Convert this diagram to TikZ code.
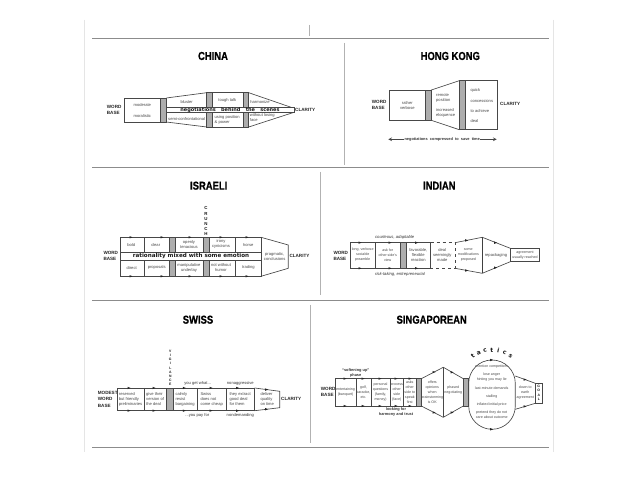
\documentclass[tikz,border=0pt]{standalone}
\usepackage{fontspec}
\setmainfont{Liberation Sans}
\newfontfamily\titlefont[FakeStretch=0.82,BoldFeatures={FakeStretch=0.82,FakeBold=0.7}]{Liberation Sans}
\newfontfamily\bandfont{DejaVu Sans}
\newcommand{\mktip}[2]{\fill[black!85] (#1-1.5,#2-1.2) -- (#1+1.5,#2) -- (#1-1.5,#2+1.2) -- cycle;}
\tikzset{
  title node/.style={font=\titlefont\bfseries\fontsize{11.5}{13}\selectfont,inner sep=0pt},
  lbl/.style={font=\fontsize{4.1}{5.2}\selectfont,text=black!72,align=center,inner sep=0pt},
  lbl small/.style={lbl,font=\fontsize{3.6}{5}\selectfont},
  lbl left/.style={lbl,align=left,anchor=west},
  key/.style={font=\bfseries\fontsize{4.6}{6.2}\selectfont,text=black!85,align=left,anchor=west,inner sep=0pt},
  band/.style={font=\bandfont\bfseries\fontsize{4.6}{5}\selectfont,text=black!90,inner sep=0pt},
  vert/.style={font=\bfseries\fontsize{4.4}{5.2}\selectfont,text=black!90,align=center,inner sep=0pt},
  side/.style={lbl,text=black!80},
  rule/.style={black!45,line width=0.8pt},
  faint/.style={black!10,line width=0.6pt},
  edge/.style={black!72,line width=0.65pt},
  heavy/.style={black!75,line width=0.9pt},
  bar/.style={black!72,line width=0.65pt,fill=black!32}
}
\begin{document}
\begin{tikzpicture}[x=1pt,y=-1pt]
\useasboundingbox (0,0) rectangle (638,478);
\fill[white] (0,0) rectangle (638,478);
% frame
\draw[faint] (84,20) -- (84,452);
\draw[faint] (553,20) -- (553,452);
\draw[rule] (92,38) -- (549,38);
\draw[rule] (92,167.5) -- (549,167.5);
\draw[rule] (92,300.5) -- (549,300.5);
\draw[rule] (92,447) -- (549,447);
\draw[faint,black!30] (309,25) -- (309,36);
\draw[faint,black!30] (344,43) -- (344,165);
\draw[faint,black!30] (320,172) -- (320,295);
\draw[faint,black!30] (310,305) -- (310,443);
% titles
\node[title node] (tChina) at (213,56) {CHINA};
\node[title node] (tHong) at (450.3,56) {HONG KONG};
\node[title node] (tIsrael) at (208.7,185.7) {ISRAELI};
\node[title node] (tIndia) at (439.3,185.7) {INDIAN};
\node[title node] (tSwiss) at (198,319.7) {SWISS};
\node[title node] (tSing) at (431.7,319.7) {SINGAPOREAN};

% China
\draw[edge] (124.3,98) rectangle (160.3,122);
\draw[edge] (166.3,98) -- (206.7,92.7);
\draw[edge] (166.3,122) -- (206.7,127);
\draw[edge] (212,92.7) -- (243.3,92.7);
\draw[edge] (212,127) -- (243.3,127);
\draw[edge] (248.7,92.7) -- (294,108.3) -- (294,112.3) -- (248.7,127);
\draw[edge,fill=white] (166.3,107.3) rectangle (294,112.7);
\draw[bar] (160.3,98) rectangle (166.3,122);
\draw[bar] (206.7,92.7) rectangle (212,107.3);
\draw[bar] (206.7,112.7) rectangle (212,127);
\draw[bar] (243.3,92.7) rectangle (248.7,107.3);
\draw[bar] (243.3,112.7) rectangle (248.7,127);
\node[key] (chWord) at (106.7,110) {WORD\\BASE};
\node[lbl] (chMod) at (142.3,105) {moderate};
\node[lbl] (chMor) at (142.3,115.7) {moralistic};
\node[lbl] (chBlu) at (186.7,102) {bluster};
\node[lbl] (chSemi) at (186.7,118.7) {semi-confrontational};
\node[lbl] (chTough) at (227.3,100.7) {tough talk};
\node[lbl left] (chPos) at (214.5,120) {using position\\\& power};
\node[lbl] (chHarm) at (260,102.3) {harmonize};
\node[lbl left] (chLose) at (249.7,117.7) {without losing\\face};
\node[band,font=\bandfont\bfseries\fontsize{5}{5.5}\selectfont] (chBand) at (230,110) {negotiations\ \ \ behind\ \ \ the\ \ \ scenes};
\node[key] (chClar) at (295,110.3) {CLARITY};

% Hong Kong
\draw[edge] (389.3,90) rectangle (425.3,120.3);
\draw[edge] (431.3,90) -- (459.3,80.7);
\draw[edge] (431.3,120.3) -- (459.3,129.7);
\draw[edge] (465.7,80.7) rectangle (497.7,129.7);
\draw[bar] (425.3,90) rectangle (431.3,120.3);
\draw[bar] (459.3,80.7) rectangle (465.7,129.7);
\node[key] (hkWord) at (371.7,104.8) {WORD\\BASE};
\node[lbl] (hkRath) at (407.3,105.7) {rather\\verbose};
\node[lbl left] (hkRem) at (436,98) {remote\\position};
\node[lbl left] (hkInc) at (436,113.3) {increased\\eloquence};
\node[lbl left] (hkQuick) at (470.3,90) {quick};
\node[lbl left] (hkConc) at (470.3,100.7) {concessions};
\node[lbl left] (hkAch) at (470.3,111) {to achieve};
\node[lbl left] (hkDeal) at (470.3,121.3) {deal};
\node[key] (hkClar) at (500,104) {CLARITY};
\node[side,font=\bfseries\fontsize{3.9}{5}\selectfont] (hkTime) at (442.2,139.3) {negotiations\ \ compressed\ \ to\ \ save\ \ time};
\coordinate (hkL) at (388.3,139.3);
\coordinate (hkR) at (496.7,139.3);
\draw[edge,-stealth] (hkTime) -- (hkL);
\draw[edge,-stealth] (hkTime) -- (hkR);

% Israeli
\draw[edge] (120,237.3) rectangle (261,276.3);
\draw[edge] (261,237.3) -- (288.3,245) -- (288.3,268.3) -- (261,276.3);
\draw[edge] (144.3,237.3) -- (144.3,276.3);
\draw[edge] (235.7,237.3) -- (235.7,276.3);
\draw[bar] (169.3,237.3) rectangle (175.3,276.3);
\draw[bar] (203.3,237.3) rectangle (209,276.3);
\draw[edge,fill=white] (120,252.7) rectangle (261,260);
\foreach \x in {131,162,190,221,247} {
  \mktip{\x}{237.3}
  \mktip{\x}{276.3}
}
\node[key] (isWord) at (103.3,256.3) {WORD\\BASE};
\node[lbl] (isBold) at (131.3,245) {bold};
\node[lbl] (isClear) at (155.7,245) {clear};
\node[lbl] (isOpen) at (189,244.3) {openly\\tenacious};
\node[lbl] (isIrony) at (221,244.3) {irony\\cynicisms};
\node[lbl] (isHorse) at (248.3,245) {horse};
\node[lbl] (isDir) at (131.7,267.7) {direct};
\node[lbl] (isProp) at (156.7,267.7) {proposals};
\node[lbl] (isMan) at (189,267.7) {manipulative\\underlay};
\node[lbl] (isNot) at (221,267.7) {not without\\humor};
\node[lbl] (isTrad) at (248.3,267.7) {trading};
\node[lbl] (isPrag) at (274.7,256.7) {pragmatic,\\conclusions};
\node[band,font=\bandfont\bfseries\fontsize{5.6}{6}\selectfont] (isBand) at (191,256.3) {rationality mixed with some emotion};
\node[key] (isClar) at (289.3,256) {CLARITY};
\node[vert] (isCrunch) at (206,221.3) {C\\R\\U\\N\\C\\H};

% Indian
\draw[edge] (350,242.7) rectangle (430.7,268.3);
\draw[edge] (375.3,242.7) -- (375.3,268.3);
\draw[bar] (400,242.7) rectangle (406,268.3);
\draw[edge,dashed] (430.7,242.7) -- (455,242.7) -- (455,268.3) -- (430.7,268.3);
\draw[edge] (455,242.7) -- (482.3,237.3) -- (510.3,248.3);
\draw[edge] (455,268.3) -- (482.3,273.3) -- (510.3,261.7);
\draw[heavy] (482.3,237.3) -- (482.3,273.3);
\draw[edge] (510.3,248.3) rectangle (539.7,261.7);
\foreach \x in {360,390,416.7} {
  \mktip{\x}{242.7}
  \mktip{\x}{268.3}
}
\mktip{466.7}{240.4}
\mktip{466.7}{270.5}
\mktip{495.7}{242.7}
\mktip{495.7}{267.7}
\node[key] (inWord) at (333.3,255.7) {WORD\\BASE};
\node[lbl small] (inLong) at (362.7,255) {long, verbose\\sociable\\preamble};
\node[lbl small] (inAsk) at (387.7,255) {ask for\\other side's\\view};
\node[lbl] (inFav) at (418.3,255) {favorable,\\flexible\\reaction};
\node[lbl] (inDeal) at (442.3,255) {deal\\seemingly\\made};
\node[lbl small] (inSome) at (468.3,255) {some\\modifications\\proposed};
\node[lbl] (inRepack) at (496,255) {repackaging};
\node[lbl small] (inAgree) at (525,255) {agreement\\usually reached};
\node[side,font=\itshape\fontsize{4.2}{5}\selectfont] (inCourt) at (394.7,237) {courteous, adaptable};
\node[side,font=\itshape\fontsize{4.2}{5}\selectfont] (inRisk) at (400,274) {risk-taking, entrepreneurial};

% Swiss
\draw[edge] (117.3,388) rectangle (254.7,410.7);
\draw[edge] (144,388) -- (144,410.7);
\draw[edge] (197.7,388) -- (197.7,410.7);
\draw[edge] (226.3,388) -- (226.3,410.7);
\draw[edge] (254.7,388) -- (279.7,391.3) -- (279.7,407.7) -- (254.7,410.7);
\draw[bar] (166.7,388) rectangle (173.3,410.7);
\foreach \x in {129,154,184.3,211,237.7} {
  \mktip{\x}{388}
  \mktip{\x}{410.7}
}
\mktip{266.7}{389.6}
\mktip{266.7}{409.2}
\node[key] (swWord) at (97.7,399.3) {MODEST\\WORD\\BASE};
\node[lbl left] (swRes) at (118.7,399.3) {reserved\\but friendly\\preliminaries};
\node[lbl left] (swGive) at (146,399.3) {give their\\version of\\the deal};
\node[lbl left] (swCalm) at (175.3,399.3) {calmly\\resist\\bargaining};
\node[lbl left] (swDoes) at (200.3,399.3) {Swiss\\does not\\come cheap};
\node[lbl left] (swExt) at (229.3,399.3) {they extract\\good deal\\for them};
\node[lbl left] (swDel) at (260.3,399.3) {deliver\\quality\\on time};
\node[key] (swClar) at (281,398.7) {CLARITY};
\node[side] (swGet) at (197.7,383.7) {you get what...};
\node[side] (swPay) at (197.3,415.7) {...you pay for};
\node[side] (swNonA) at (240.3,383.7) {nonaggressive};
\node[side] (swNonD) at (240.3,415.7) {nondemanding};
\node[vert,font=\bfseries\fontsize{3.4}{4.2}\selectfont] (swVig) at (170.3,368) {V\\I\\G\\I\\L\\A\\N\\C\\E};

% Singaporean
\draw[edge] (335,378.7) rectangle (416.3,406);
\draw[edge] (356,378.7) -- (356,406);
\draw[edge] (371,378.7) -- (371,406);
\draw[edge] (390,378.7) -- (390,406);
\draw[edge] (403.3,378.7) -- (403.3,406);
\draw[bar] (416.3,378.7) rectangle (421.3,406);
\draw[edge] (421.3,378.7) -- (443.3,367.3) -- (463.3,378.7);
\draw[edge] (421.3,406) -- (443.3,417.3) -- (463.3,406);
\draw[edge] (443.3,367.3) -- (443.3,417.3);
\draw[bar] (463.3,378.7) rectangle (468.7,406);
\draw[edge,rounded corners=23.3pt] (468.7,360) rectangle (515.3,429.3);
\draw[edge] (515.3,376) -- (535.3,383.3);
\draw[edge] (515.3,409.3) -- (535.3,403.3);
\draw[edge] (535.3,383.3) rectangle (542.3,403.3);
\foreach \x in {345,363,380,396,410} {
  \mktip{\x}{378.7}
  \mktip{\x}{406}
}
\mktip{434}{372.1}
\mktip{434}{412.5}
\mktip{452}{372.3}
\mktip{452}{412.5}
\mktip{491.7}{360}
\mktip{491.7}{429.3}
\mktip{525}{379.6}
\mktip{525}{406.4}
\node[key] (sgWord) at (320.7,392.2) {WORD\\BASE};
\node[lbl small] (sgEnt) at (345.5,392.3) {entertaining\\(banquet)};
\node[lbl small] (sgGolf) at (363.5,392.3) {golf,\\karaoke,\\etc.};
\node[lbl small] (sgPers) at (380.5,392.3) {personal\\questions\\(family,\\money)};
\node[lbl small] (sgProc) at (396.7,392.3) {process\\other\\side\\(face)};
\node[lbl small] (sgAsks) at (409.8,392.3) {asks\\other\\side to\\speak\\first};
\node[lbl small] (sgOff) at (432.3,392.3) {offers\\opinions\\when\\brainstorming\\is OK};
\node[lbl small] (sgPhas) at (453.3,390) {phased\\negotiating};
\node[lbl small] (sgMen) at (491.7,366.7) {mention competitors};
\node[lbl small] (sgLose) at (491.7,377) {lose anger\\hinting you may lie};
\node[lbl small] (sgLast) at (491.7,388) {last-minute demands};
\node[lbl small] (sgStall) at (491.7,396.7) {stalling};
\node[lbl small] (sgInfl) at (491.7,404.7) {inflated initial price};
\node[lbl small] (sgPret) at (491.7,415) {pretend they do not\\care about outcome};
\node[lbl small] (sgDown) at (525.3,392.3) {down to\\earth\\agreement};
\node[vert,font=\bfseries\fontsize{3.4}{4.4}\selectfont] (sgGoal) at (538.8,393) {G\\O\\A\\L};
\node[side,font=\bfseries\fontsize{3.9}{5}\selectfont] (sgSoft) at (355.7,372.7) {``softening up''\\phase};
\node[side,font=\bfseries\fontsize{3.9}{5}\selectfont] (sgLook) at (396,411.7) {looking for\\harmony and trust};
\foreach \a/\c/\n in {-36/t/a1,-24/a/a2,-12/c/a3,0/t/a4,12/i/a5,24/c/a6,36/s/a7} {
  \node[band,font=\bandfont\bfseries\fontsize{6}{6}\selectfont,rotate=-\a] (tac\n) at ({491.7+32*sin(\a)},{382-32*cos(\a)}) {\c};
}
\end{tikzpicture}
\end{document}
